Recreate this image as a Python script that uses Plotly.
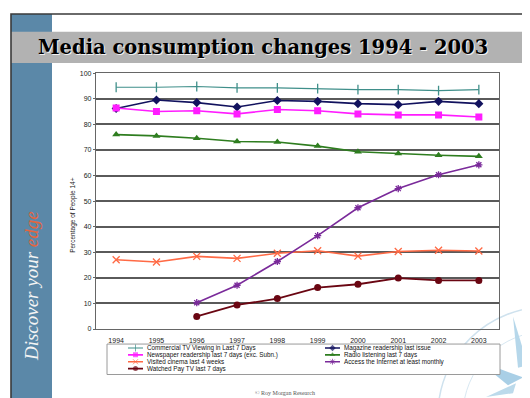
import plotly.graph_objects as go

W, H = 530, 398

# ---------------- data ----------------
years = [1994, 1995, 1996, 1997, 1998, 1999, 2000, 2001, 2002, 2003]
year_labels = [str(y) for y in years]
tv = [94.5, 94.5, 94.8, 94.3, 94.3, 94.0, 93.6, 93.6, 93.2, 93.6]
magazine = [86.2, 89.5, 88.5, 86.8, 89.3, 89.0, 88.1, 87.7, 89.0, 88.1]
newspaper = [86.4, 85.0, 85.3, 84.1, 85.8, 85.3, 84.1, 83.7, 83.7, 82.9]
radio = [76.0, 75.5, 74.6, 73.3, 73.1, 71.5, 69.3, 68.6, 67.9, 67.5]
cinema = [27.1, 26.2, 28.4, 27.6, 29.6, 30.6, 28.5, 30.3, 30.8, 30.5]
internet = [None, None, 10.3, 17.1, 26.4, 36.5, 47.4, 54.9, 60.3, 64.2]
paytv = [None, None, 4.9, 9.4, 11.9, 16.2, 17.5, 19.9, 19.0, 19.0]

series_names = [
    "Commercial TV Viewing in Last 7 Days",
    "Magazine readership last issue",
    "Newspaper readership last 7 days (exc. Subn.)",
    "Radio listening last 7 days",
    "Visited cinema last 4 weeks",
    "Access the Internet at least monthly",
    "Watched Pay TV last 7 days",
]
series_values = [tv, magazine, newspaper, radio, cinema, internet, paytv]
series_colors = ["#3f8f8a", "#12125e", "#ff1cff", "#2e7d1f", "#ff6a45", "#7a2a9a", "#6a0612"]
series_symbols = ["line-ns-open", "diamond", "square", "triangle-up", "x-thin-open", "asterisk-open", "circle"]
series_msize = [7, 7, 7, 7, 7, 6, 7]
series_lwidth = [1.2, 1.6, 1.6, 1.6, 1.6, 1.6, 1.8]

title_text = "Media consumption changes 1994 - 2003"
yaxis_title = "Percentage of People 14+"
copyright_text = "© Roy Morgan Research"


def X(px):
    return px / W


def Y(py):
    return 1 - py / H


# plot area (pixels)
PL, PR, PT, PB = 88, 491, 62.3, 322.7
# legend box (pixels)
LL, LR, LT, LB = 99, 492, 338, 369

fig = go.Figure()

for name, vals, col, sym, ms, lw in zip(series_names, series_values, series_colors,
                                         series_symbols, series_msize, series_lwidth):
    fig.add_trace(go.Scatter(
        x=years, y=vals, name=name, mode="lines+markers",
        line=dict(color=col, width=lw),
        marker=dict(symbol=sym, size=ms, color=col,
                    line=dict(color=col, width=1.3 if "open" in sym else 0)),
        connectgaps=False, showlegend=False,
        xaxis="x", yaxis="y",
    ))

# ---------- manual legend (two columns) ----------
col_line_x = [(120, 135), (317, 332)]
row_y = [342, 349, 356, 363]
annotations = []
for i, (name, col, sym, lw) in enumerate(zip(series_names, series_colors, series_symbols, series_lwidth)):
    c = i % 2
    r = i // 2
    x0, x1 = col_line_x[c]
    yy = row_y[r]
    fig.add_trace(go.Scatter(
        x=[x0, (x0 + x1) / 2, x1], y=[yy, yy, yy], mode="lines+markers",
        line=dict(color=col, width=lw),
        marker=dict(symbol=sym, size=[0, 5, 0], color=col,
                    line=dict(color=col, width=1 if "open" in sym else 0)),
        showlegend=False, hoverinfo="skip", xaxis="x2", yaxis="y2",
    ))
    annotations.append(dict(
        x=x1 + 2, y=yy, xref="x2", yref="y2", text=name, showarrow=False,
        xanchor="left", yanchor="middle",
        font=dict(family="Liberation Sans, Arial", size=6.3, color="#111"),
    ))

# ---------- text annotations ----------
cx = 255
annotations += [
    dict(x=X(cx + 1), y=Y(37.5), xref="paper", yref="paper", text=title_text, showarrow=False,
         font=dict(family="DejaVu Serif", size=19.5, color="#f2f2f2", weight="bold"),
         xanchor="center", yanchor="middle"),
    dict(x=X(cx), y=Y(36.5), xref="paper", yref="paper", text=title_text, showarrow=False,
         font=dict(family="DejaVu Serif", size=19.5, color="#000000", weight="bold"),
         xanchor="center", yanchor="middle"),
    dict(x=X(23), y=Y(279), xref="paper", yref="paper",
         text="<i>Discover your <span style='color:#e4653f'>edge</span></i>",
         showarrow=False, textangle=-90,
         font=dict(family="Liberation Serif", size=19, color="#f4f4f4"),
         xanchor="center", yanchor="middle"),
    dict(x=X(65.5), y=Y(207), xref="paper", yref="paper", text=yaxis_title, showarrow=False,
         textangle=-90, font=dict(family="Liberation Sans, Arial", size=6.5, color="#222"),
         xanchor="center", yanchor="middle"),
    dict(x=X(277), y=Y(388), xref="paper", yref="paper", text=copyright_text, showarrow=False,
         font=dict(family="Liberation Serif", size=6, color="#555"),
         xanchor="center", yanchor="middle"),
]

# ---------- decorative shapes ----------
shapes = [
    # compass watermark (bottom right), faint
    dict(type="circle", xref="paper", yref="paper", x0=X(430), x1=X(650), y0=Y(300), y1=Y(520),
         line=dict(color="#cfe2ee", width=1.5), layer="below"),
    dict(type="circle", xref="paper", yref="paper", x0=X(455), x1=X(625), y0=Y(325), y1=Y(495),
         line=dict(color="#d8e8f2", width=1), layer="below"),
    dict(type="path", xref="paper", yref="paper",
         path=f"M {X(470)},{Y(355)} L {X(515)},{Y(372)} L {X(500)},{Y(380)} Z",
         fillcolor="#a9cfe6", line=dict(width=0), layer="below"),
    dict(type="path", xref="paper", yref="paper",
         path=f"M {X(505)},{Y(310)} L {X(520)},{Y(360)} L {X(510)},{Y(362)} Z",
         fillcolor="#b6d7ea", line=dict(width=0), layer="below"),
    dict(type="path", xref="paper", yref="paper",
         path=f"M {X(478)},{Y(392)} L {X(508)},{Y(378)} L {X(505)},{Y(388)} Z",
         fillcolor="#bcdaeb", line=dict(width=0), layer="below"),
    # left blue strip
    dict(type="rect", xref="paper", yref="paper", x0=X(3), x1=X(44), y0=Y(393), y1=Y(2),
         fillcolor="#5b88a8", line=dict(width=0), layer="below"),
    # grey title band
    dict(type="rect", xref="paper", yref="paper", x0=X(3), x1=X(521), y0=Y(52), y1=Y(20),
         fillcolor="#b2b2b2", line=dict(width=0), layer="below"),
    # slide border
    dict(type="path", xref="paper", yref="paper",
         path=f"M {X(3)},{Y(2)} L {X(521)},{Y(2)} L {X(527)},{Y(395)} L {X(3)},{Y(394)} Z",
         line=dict(color="#3a3a3a", width=1.6), layer="above"),
    # legend box
    dict(type="rect", xref="paper", yref="paper", x0=X(LL), x1=X(LR), y0=Y(LB), y1=Y(LT),
         fillcolor="white", line=dict(color="#9a9a9a", width=1), layer="below"),
]

fig.update_layout(
    width=W, height=H,
    margin=dict(l=0, r=0, t=0, b=0),
    paper_bgcolor="white", plot_bgcolor="white",
    showlegend=False,
    font=dict(family="Liberation Sans, Arial", size=7, color="#222"),
    xaxis=dict(
        domain=[X(PL), X(PR)], range=[1993.5, 2003.5],
        tickvals=years, ticktext=year_labels, tickfont=dict(size=7, color="#222"),
        showgrid=False, zeroline=False, showline=True, mirror=True,
        linecolor="#666", linewidth=1.2, ticks="outside", ticklen=4, tickcolor="rgba(0,0,0,0)",
        fixedrange=True, anchor="y",
    ),
    yaxis=dict(
        domain=[Y(PB), Y(PT)], range=[0, 100], dtick=10,
        tickfont=dict(size=7, color="#222"),
        showgrid=True, gridcolor="#5a5a5a", gridwidth=1.5,
        zeroline=False, showline=True, mirror=True, linecolor="#666", linewidth=1.2,
        ticks="outside", ticklen=2, tickcolor="#666",
        fixedrange=True, anchor="x",
    ),
    xaxis2=dict(domain=[X(LL), X(LR)], range=[LL, LR], visible=False, fixedrange=True, anchor="y2"),
    yaxis2=dict(domain=[Y(LB), Y(LT)], range=[LB, LT], visible=False, fixedrange=True, anchor="x2"),
    shapes=shapes,
    annotations=annotations,
)

fig.write_html("out.html")
